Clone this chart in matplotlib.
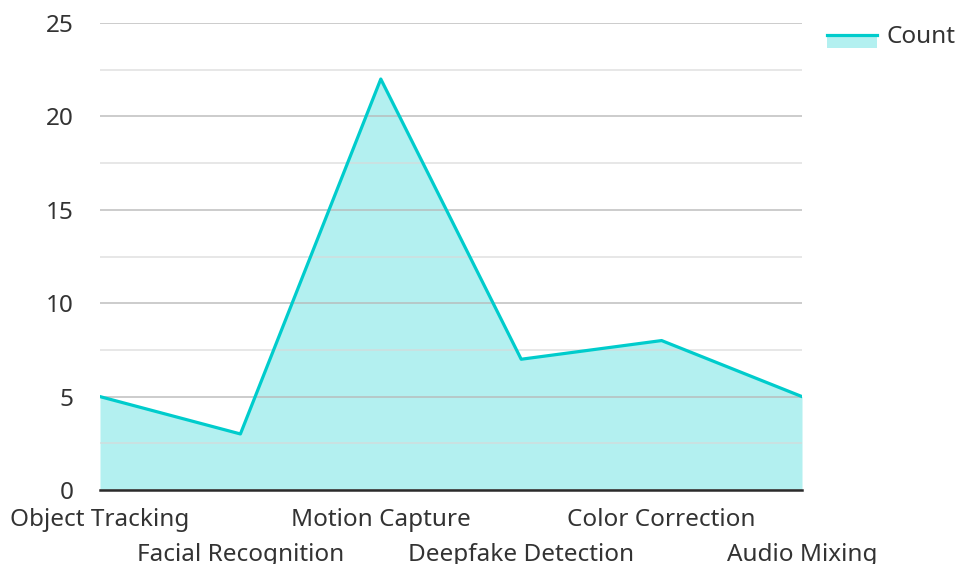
import matplotlib.pyplot as plt
from matplotlib.ticker import MultipleLocator, FixedLocator, FixedFormatter
from matplotlib.patches import Rectangle
from matplotlib.lines import Line2D

# Data
categories = ['Object Tracking', 'Facial Recognition', 'Motion Capture',
              'Deepfake Detection', 'Color Correction', 'Audio Mixing']
counts = [5, 3, 22, 7, 8, 5]

plt.rcParams['font.family'] = ['Noto Sans', 'DejaVu Sans']

line_col = '#00cccc'
fill_col = '#b3f0f0'
text_col = '#333333'
fs = 17.5

fig = plt.figure(figsize=(9.6, 5.64), dpi=100)
ax = fig.add_axes([100/960, 1-490/564, 702/960, 467/564])

x = list(range(len(categories)))
ax.fill_between(x, counts, 0, color=fill_col, zorder=1, linewidth=0)
ax.plot(x, counts, color=line_col, linewidth=2.3, zorder=3)

ax.set_xlim(0, len(categories)-1)
ax.set_ylim(0, 25)
ax.yaxis.set_major_locator(MultipleLocator(5))
ax.yaxis.set_minor_locator(MultipleLocator(2.5))
ax.grid(which='major', axis='y', color='#b8b8b8', linewidth=1.1, alpha=0.9, zorder=2)
ax.grid(which='minor', axis='y', color='#d8d8d8', linewidth=1.1, alpha=0.8, zorder=2)
ax.set_axisbelow(False)
for s in ['top', 'right', 'left']:
    ax.spines[s].set_visible(False)
ax.spines['bottom'].set_color('#2b2b2b')
ax.spines['bottom'].set_linewidth(1.8)
ax.spines['bottom'].set_zorder(4)

# alternate category labels on two rows (even = major ticks, odd = minor ticks)
ax.xaxis.set_major_locator(FixedLocator(x[0::2]))
ax.xaxis.set_major_formatter(FixedFormatter(categories[0::2]))
ax.xaxis.set_minor_locator(FixedLocator(x[1::2]))
ax.xaxis.set_minor_formatter(FixedFormatter(categories[1::2]))
ax.tick_params(axis='x', which='major', length=0, pad=13, labelsize=fs, labelcolor=text_col)
ax.tick_params(axis='x', which='minor', length=0, pad=38, labelsize=fs, labelcolor=text_col)
ax.tick_params(axis='y', which='both', length=0, pad=19, labelsize=fs, labelcolor=text_col)

# legend
fig.add_artist(Rectangle((827/960, 1-48/564), 50/960, 11/564,
                         transform=fig.transFigure, facecolor=fill_col, edgecolor='none'))
fig.add_artist(Line2D([827/960, 877/960], [1-35/564, 1-35/564],
                      transform=fig.transFigure, color=line_col, linewidth=2.3))
fig.text(887/960, 1-37/564, 'Count', fontsize=fs, color=text_col, va='center', ha='left')

fig.savefig('out.png', dpi=100)
